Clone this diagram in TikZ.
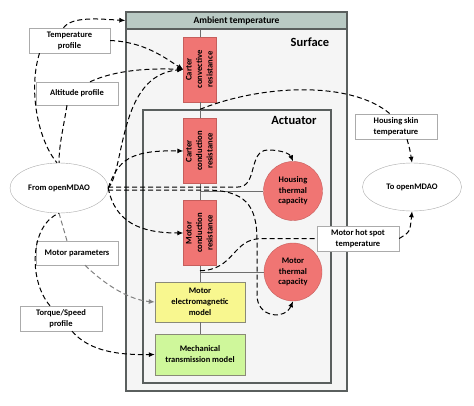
\documentclass[tikz,border=0pt]{standalone}
\usepackage{fontspec}
\setmainfont{Carlito}
\usetikzlibrary{arrows.meta,shapes.geometric}
\definecolor{wallgray}{HTML}{5A5F5E}
\definecolor{boxfill}{HTML}{F5F5F5}
\definecolor{ambientfill}{HTML}{B9CAC4}
\definecolor{resfill}{HTML}{F07573}
\definecolor{resborder}{HTML}{C65E5C}
\definecolor{emfill}{HTML}{F8F78F}
\definecolor{mechfill}{HTML}{CFF79B}
\definecolor{modelborder}{HTML}{8A8A78}
\definecolor{labelborder}{HTML}{ABABAB}
\definecolor{spinegray}{HTML}{6E6E6E}
\tikzset{
    wall/.style={draw=wallgray, line width=1.3pt, fill=boxfill},
    resist/.style={draw=resborder, fill=resfill, minimum width=33, minimum height=65, inner sep=0pt,
        font=\fontsize{8.6}{10.6}\selectfont\bfseries},
    model/.style={draw=modelborder, minimum width=90, minimum height=40, align=center, inner sep=1pt},
    capacity/.style={circle, draw=resborder, fill=resfill, minimum size=59, align=center, inner sep=0pt,
        font=\fontsize{8.5}{10.5}\selectfont\bfseries},
    datalabel/.style={draw=labelborder, fill=white, minimum width=82, minimum height=25, align=center, inner sep=1pt},
    port/.style={ellipse, draw=labelborder, fill=white, minimum width=98, minimum height=49, inner sep=0pt},
    spine/.style={draw=spinegray, line width=0.9pt},
    signal/.style={line width=1pt, dash pattern=on 5pt off 3pt},
    flow/.style={signal, -{Latex[length=6pt,width=5pt]}},
}
\newcommand{\vlabel}[1]{\rotatebox{90}{\begin{tabular}{@{}c@{}}#1\end{tabular}}}
\begin{document}
\begin{tikzpicture}[x=1pt, y=-1pt, font=\fontsize{8.5}{11}\selectfont\bfseries]
            \useasboundingbox (0,0) rectangle (474,405);

            \node (surface) at (236.5,201.5) [wall, minimum width=221, minimum height=379] {};
            \node (ambient) at (236.5,20.5) [wall, fill=ambientfill, minimum width=221, minimum height=17,
                font=\fontsize{9.5}{11}\selectfont\bfseries] {Ambient temperature};
            \node (surfacetitle) at (310,42) [font=\fontsize{12.5}{14}\selectfont\bfseries] {Surface};
            \node (actuator) at (237,246.5) [wall, minimum width=188, minimum height=273] {};
            \node (actuatortitle) at (294,120) [font=\fontsize{12.5}{14}\selectfont\bfseries] {Actuator};

            \node (cconv) at (200,69.5) [resist] {\vlabel{Carter\\convective\\resistance}};
            \node (ccond) at (200,151) [resist] {\vlabel{Carter\\conduction\\resistance}};
            \node (mcond) at (200,233) [resist] {\vlabel{Motor\\conduction\\resistance}};
            \node (emag) at (200,302) [model, fill=emfill] {Motor\\electromagnetic\\model};
            \node (mech) at (200,354.5) [model, fill=mechfill, minimum height=41] {Mechanical\\transmission model};
            \node (hcap) at (293,191) [capacity] {Housing\\thermal\\capacity};
            \node (mcap) at (293,272) [capacity, minimum size=58] {Motor\\thermal\\capacity};

            \draw[spine] (ambient.south -| cconv) -- (cconv.north);
            \draw[spine] (cconv.south) -- (ccond.north);
            \draw[spine] (ccond.south) -- (mcond.north);
            \draw[spine] (mcond.south) -- (emag.north);
            \draw[spine] (emag.south) -- (mech.north);
            \draw[spine] (hcap.west -| ccond) -- (hcap.west);
            \draw[spine] (mcap.west -| mcond) -- (mcap.west);

            \node (tprof) at (69.5,40.5) [datalabel, minimum width=81] {Temperature\\profile};
            \node (aprof) at (77,93.5) [datalabel, minimum height=23] {Altitude profile};
            \node (from) at (59,188) [port, minimum height=50] {From openMDAO};
            \node (mpar) at (77,253) [datalabel, minimum height=24] {Motor parameters};
            \node (tsp) at (61,318.5) [datalabel] {Torque/Speed\\profile};
            \node (hskin) at (396,126.5) [datalabel] {Housing skin\\temperature};
            \node (to) at (412,187) [port, minimum width=99, minimum height=48] {To openMDAO};
            \node (mhot) at (358,238.5) [datalabel] {Motor hot spot\\temperature};

            \draw[flow] ([xshift=-6]tprof.north) .. controls (72,16) and (100,19) .. (ambient.west);
            \draw[signal] ([xshift=-30]tprof.south) .. controls (28,90) and (38,140) .. ([xshift=-2]from.north);
            \draw[signal] ([xshift=-10]aprof.south) .. controls (63,130) and (59,145) .. (from.north);
            \draw[flow] (tprof.east) .. controls (145,42) and (165,58) .. (cconv.west);
            \draw[flow] ([xshift=13]aprof.north) .. controls (115,70) and (150,68) .. (cconv.west);
            \draw[flow] (from.east) .. controls (125,170) and (118,75) .. (cconv.west);
            \draw[flow] (from.east) .. controls (118,160) and (130,150) .. (ccond.west);
            \draw[flow] ([yshift=1]from.east) -- (238,187) .. controls (258,187) and (248,150) .. (268,150)
                .. controls (282,150) and (290,154) .. (hcap.north);
            \draw[flow] ([yshift=-2]from.east) -- (205,190) .. controls (245,190) and (257,205) .. (257,240)
                -- (257,295) .. controls (257,318) and (285,320) .. (mcap.south);
            \draw[flow] (from.east) .. controls (115,222) and (140,233) .. (mcond.west);
            \draw[signal] (cconv |- actuator.north) .. controls (260,85) and (350,80) .. ([xshift=-6]hskin.north);
            \draw[flow] ([xshift=11]hskin.south) .. controls (410,150) .. (to.north);
            \draw[signal] ([yshift=-5]mcond.south) .. controls (235,270) and (232,238.5) .. (262,238.5) -- (mhot.west);
            \draw[flow] (mhot.east) .. controls (410,232) .. (to.south);
            \draw[signal, draw=gray] ([xshift=-10]mpar.north) -- (from.south);
            \draw[flow, draw=gray] ([xshift=8]mpar.south) .. controls (105,285) and (130,300) .. (emag.west);
            \draw[signal] ([xshift=-11]tsp.north) .. controls (28,280) and (30,225) .. (from.south);
            \draw[flow] ([xshift=11]tsp.south) .. controls (90,352) and (120,355) .. (mech.west);
\end{tikzpicture}
\end{document}
